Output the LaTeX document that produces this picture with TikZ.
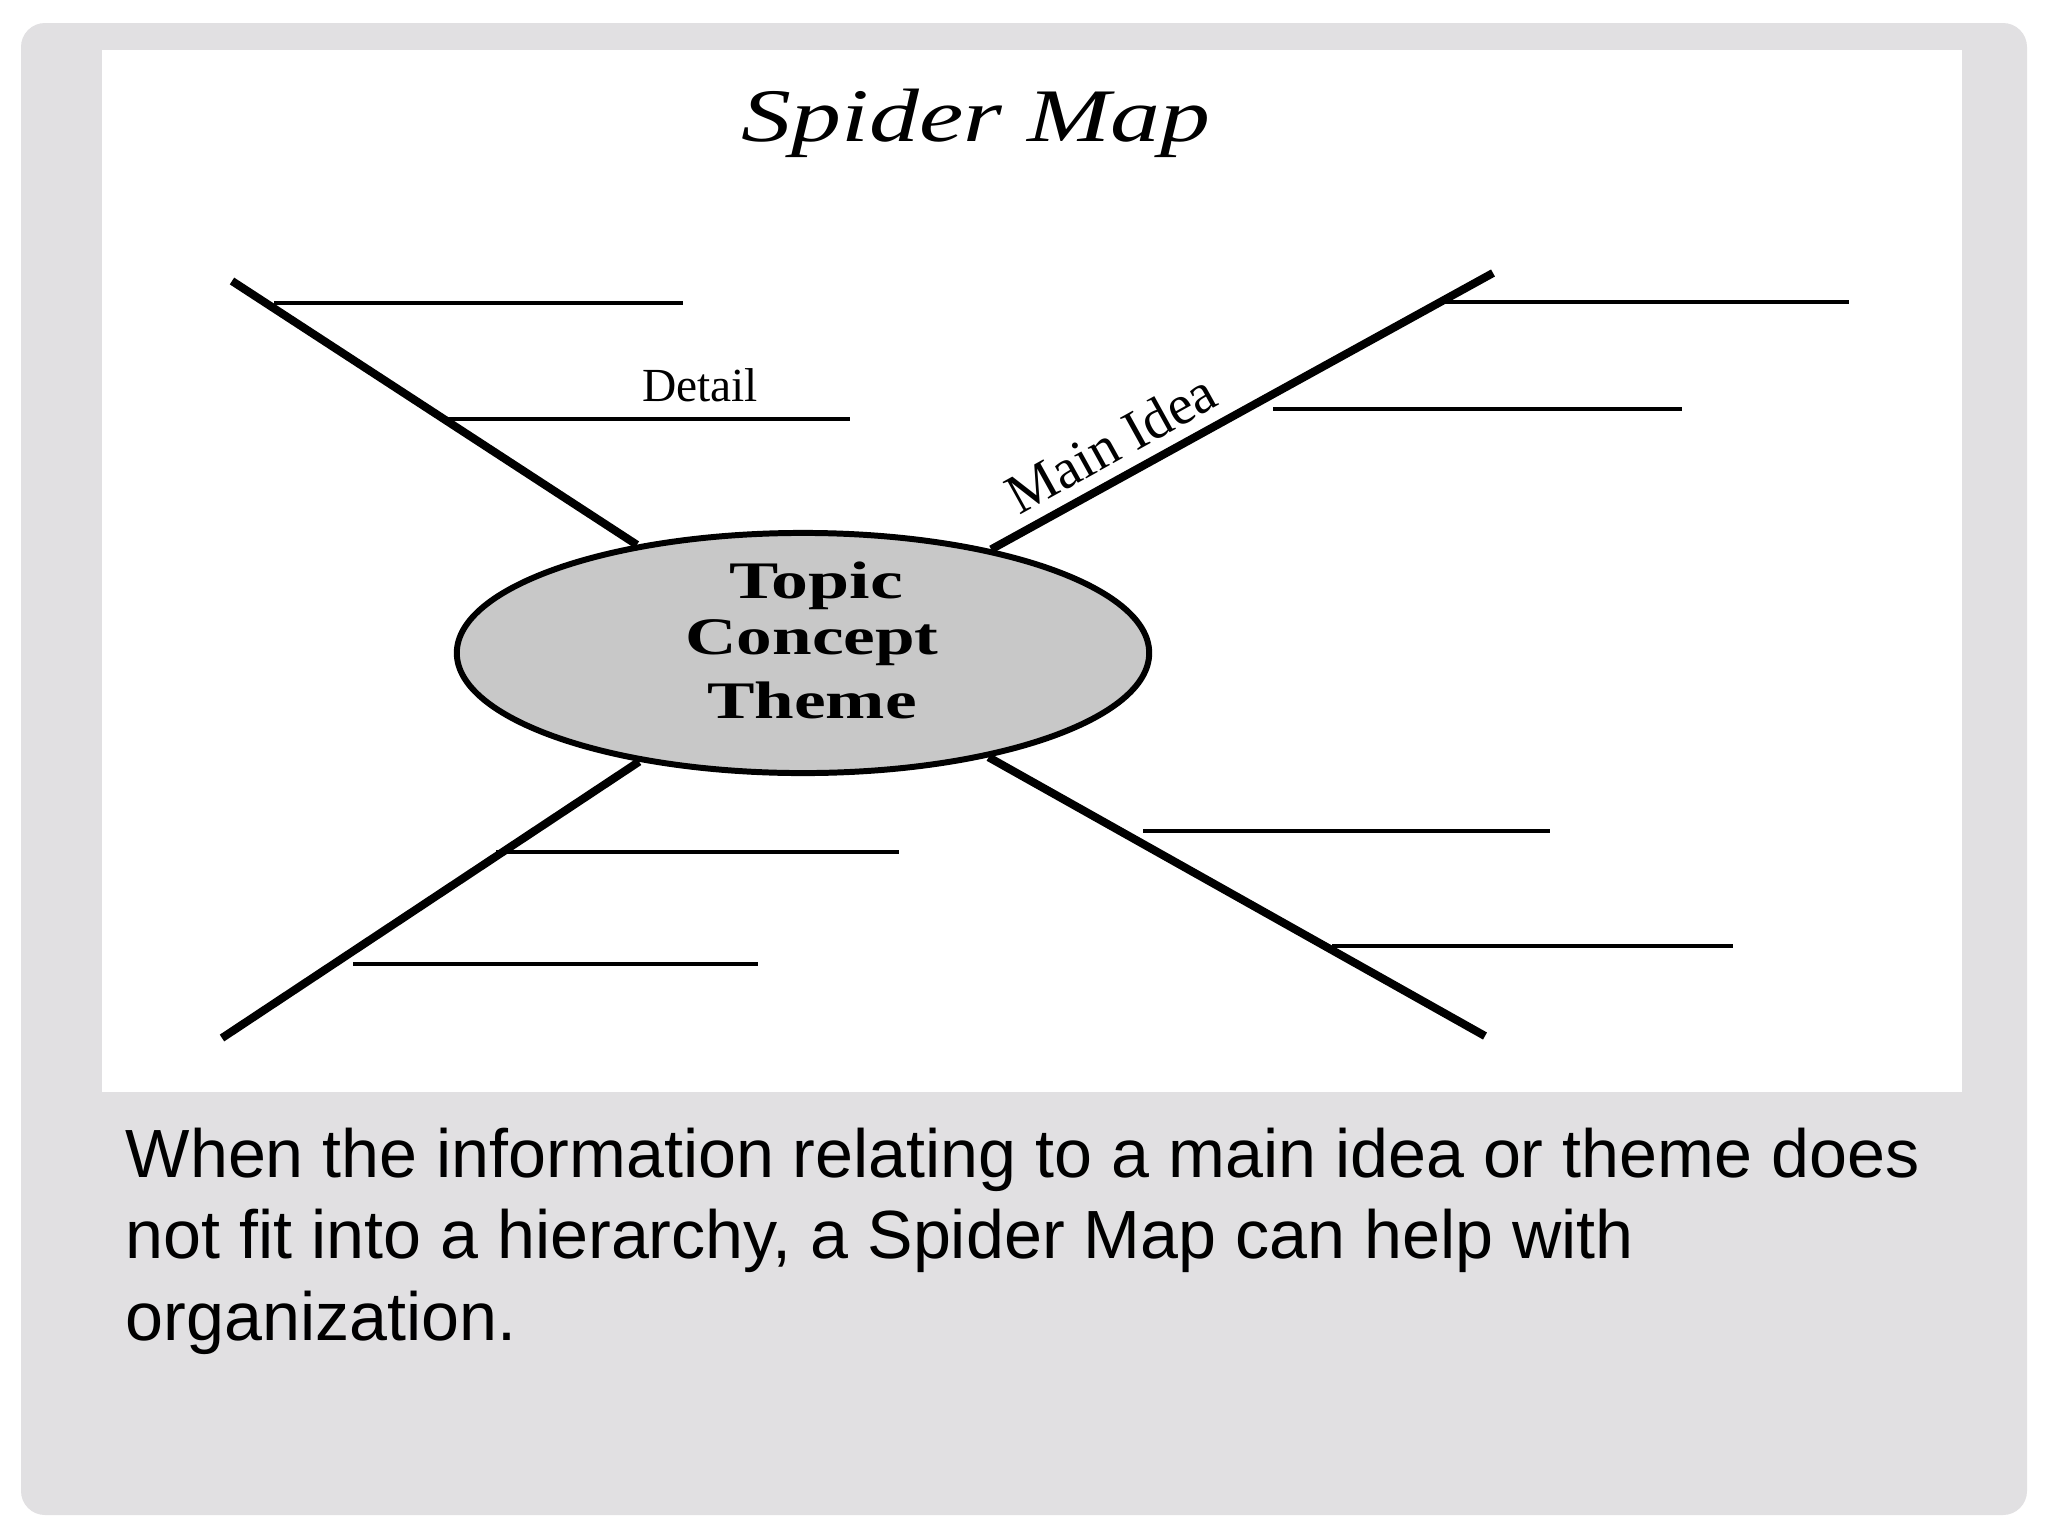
\documentclass[tikz,border=0pt]{standalone}
\usepackage{fontspec}
\setmainfont{Liberation Serif}
\newfontfamily\capfont{Liberation Sans}
\usetikzlibrary{shapes.geometric}
\definecolor{slidegray}{HTML}{E1E0E2}
\definecolor{ovalgray}{HTML}{C8C8C8}
\tikzset{
  spoke/.style={line width=2.3pt, black},
  blank/.style={line width=1.3pt, black},
  ovalstyle/.style={ellipse, draw=black, line width=1.7pt, fill=ovalgray,
    minimum width=6.92cm, minimum height=2.40cm, inner sep=0pt},
  captext/.style={anchor=base west, inner sep=0pt,
    font=\capfont\fontsize{19.4}{23.2}\selectfont},
}
\begin{document}
\begin{tikzpicture}[x=0.01cm, y=-0.01cm]
\useasboundingbox (0,0) rectangle (2048,1536);
\fill[white] (0,0) rectangle (2048,1536);
\fill[slidegray, rounded corners=0.24cm] (21,23) rectangle (2027,1515);
\fill[white] (102,50) rectangle (1962,1092);

% title
\node[anchor=base, inner sep=0pt] (title) at (976,141)
  {\scalebox{1.32}[1]{\fontsize{21.5}{26}\selectfont\itshape Spider Map}};

% central oval
\node[ovalstyle] (topic) at (803,653) {};
\node[inner sep=0pt, anchor=base] (topictext) at (816,598)
  {\scalebox{1.4}[1]{\fontsize{15}{17}\selectfont\bfseries Topic}};
\node[inner sep=0pt, anchor=base] (concepttext) at (812,654)
  {\scalebox{1.35}[1]{\fontsize{15}{17}\selectfont\bfseries Concept}};
\node[inner sep=0pt, anchor=base] (themetext) at (812,718)
  {\scalebox{1.35}[1]{\fontsize{15}{17}\selectfont\bfseries Theme}};

% spoke ends
\coordinate (ul) at (232,281);
\coordinate (ur) at (1493,273);
\coordinate (ll) at (222,1038);
\coordinate (lr) at (1485,1036);
\draw[spoke] (ul) -- (topic);
\draw[spoke] (ur) -- (topic);
\draw[spoke] (ll) -- (topic);
\draw[spoke] (lr) -- (topic);

% blank detail lines
\draw[blank] (274,303) -- (683,303);
\draw[blank] (444,419) -- (850,419);
\draw[blank] (1443,302) -- (1849,302);
\draw[blank] (1273,409) -- (1682,409);
\draw[blank] (496,852) -- (899,852);
\draw[blank] (353,964) -- (758,964);
\draw[blank] (1143,831) -- (1550,831);
\draw[blank] (1332,946) -- (1733,946);

% labels
\node[anchor=base, inner sep=0pt] (detail) at (700,401)
  {\fontsize{13.5}{16}\selectfont Detail};
\node[rotate=29, inner sep=0pt] (mainidea) at (1111,443)
  {\fontsize{16}{18}\selectfont Main Idea};

% caption
\node[captext] (cap1) at (125,1177) {When the information relating to a main idea or theme does};
\node[captext] (cap2) at (125,1258) {not fit into a hierarchy, a Spider Map can help with};
\node[captext] (cap3) at (125,1340) {organization.};
\end{tikzpicture}
\end{document}
